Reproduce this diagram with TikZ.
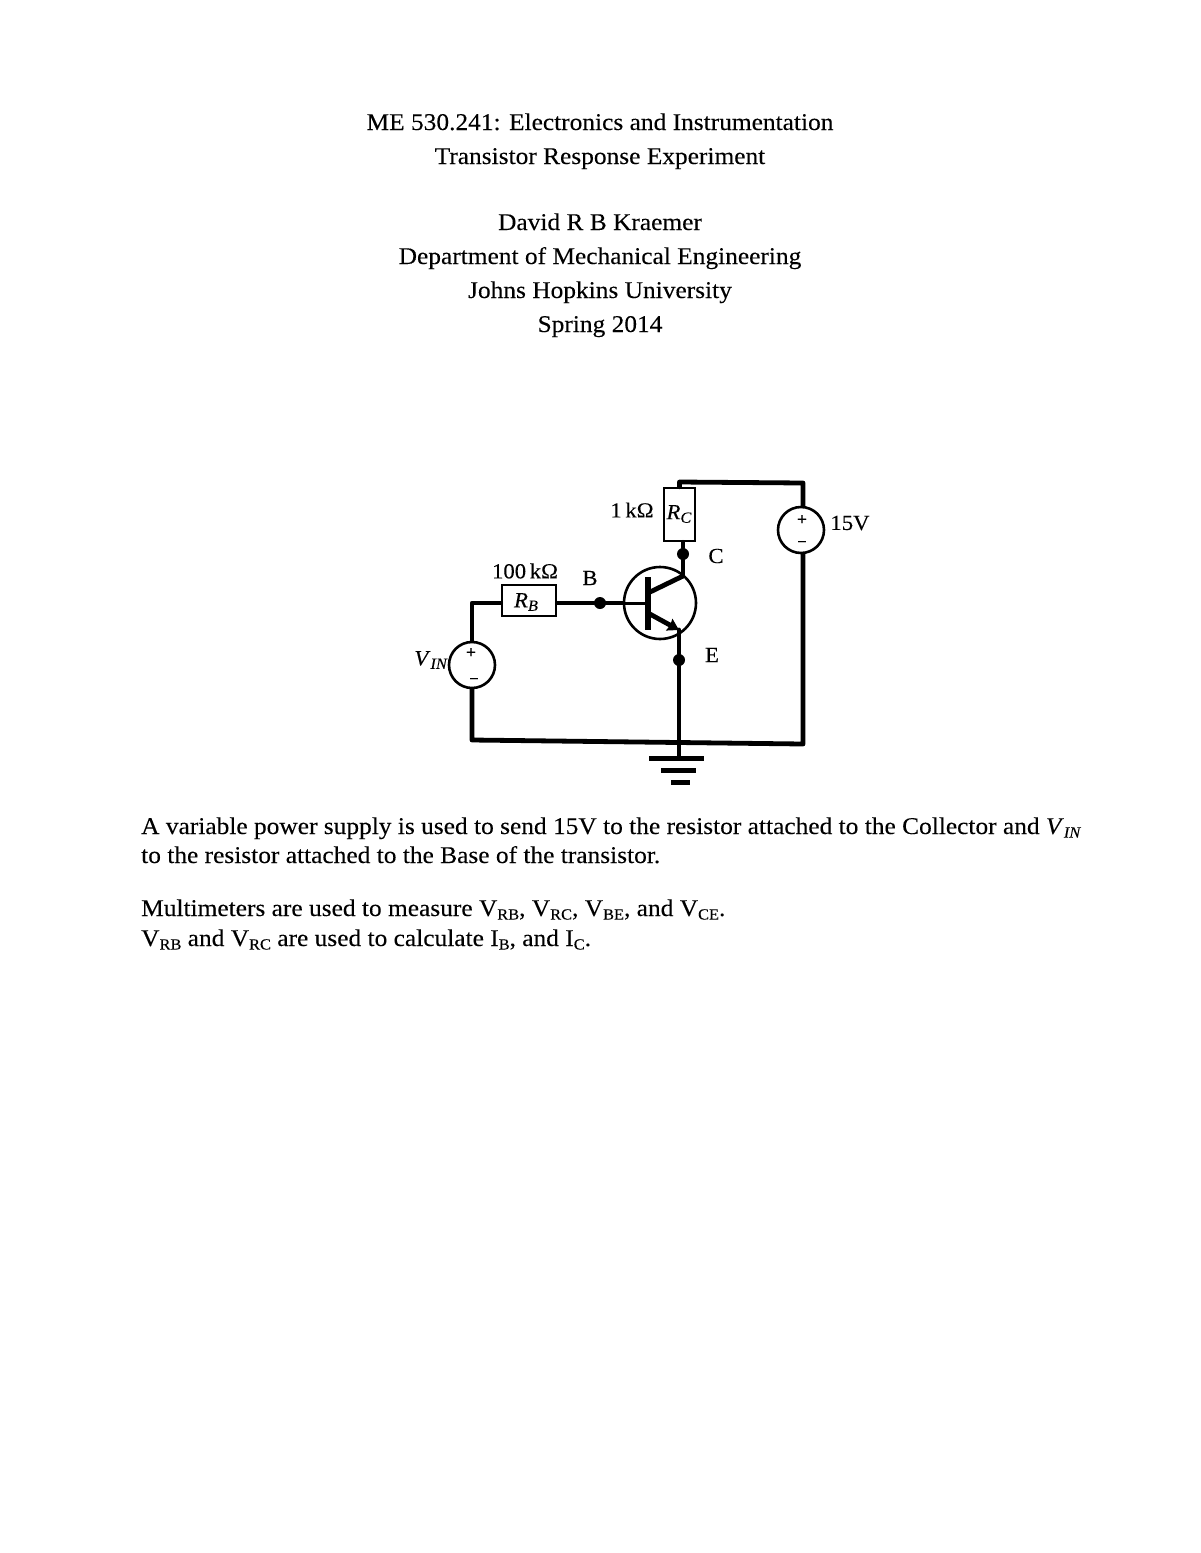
\documentclass[tikz,border=0pt]{standalone}
\usepackage{fontspec}
\setmainfont[FakeStretch=1.058,FakeBold=0.12]{Liberation Serif}
\usetikzlibrary{arrows.meta}
\newcommand{\subs}[1]{{\fontsize{15.5}{15.5}\selectfont\raisebox{-3.5pt}{#1}}}
\tikzset{
  wire/.style={line width=4.8pt,line cap=round,line join=round,black},
  thinwire/.style={line width=3pt,line cap=butt,black},
  comp/.style={draw=black,line width=2.6pt,fill=white,inner sep=0pt,minimum width=#1},
  source/.style={circle,draw=black,line width=2.6pt,fill=white,minimum size=46pt,inner sep=0pt},
  junction/.style={circle,fill=black,minimum size=12pt,inner sep=0pt},
  headline/.style={anchor=base,inner sep=0pt,font=\fontsize{24}{24}\selectfont},
  bodyline/.style={anchor=base west,inner sep=0pt,font=\fontsize{24}{24}\selectfont},
  lab/.style={inner sep=0pt,font=\fontsize{21.5}{21.5}\selectfont},
  sign/.style={inner sep=0pt,font=\fontsize{17}{17}\selectfont\bfseries},
}
\begin{document}
\begin{tikzpicture}[x=1pt,y=-1pt]
\useasboundingbox[fill=white] (0,0) rectangle (1200,1553);
% heading
\node[headline] (t1) at (600,130) {ME 530.241: Electronics and Instrumentation};
\node[headline] (t2) at (600,164) {Transistor Response Experiment};
\node[headline] (t3) at (600,230) {David R B Kraemer};
\node[headline] (t4) at (600,264) {Department of Mechanical Engineering};
\node[headline] (t5) at (600,298) {Johns Hopkins University};
\node[headline] (t6) at (600,332) {Spring 2014};
% body
\node[bodyline] (b1) at (141,834) {A variable power supply is used to send 15V to the resistor attached to the Collector and \textit{V}\subs{\textit{IN}}};
\node[bodyline] (b2) at (141,863) {to the resistor attached to the Base of the transistor.};
\node[bodyline] (b3) at (141,916) {Multimeters are used to measure V\subs{RB}, V\subs{RC}, V\subs{BE}, and V\subs{CE}.};
\node[bodyline] (b4) at (141,946) {V\subs{RB} and V\subs{RC} are used to calculate I\subs{B}, and I\subs{C}.};
% anchors of the circuit
\coordinate (topL) at (679.5,482);
\coordinate (topR) at (803,483);
\coordinate (botL) at (472,740);
\coordinate (botR) at (803,744);
\coordinate (gndj) at (679,742);
\coordinate (gndt) at (679,758);
\coordinate (bend) at (472,603);
\coordinate (collector) at (683,576);
\coordinate (emitter) at (679,630);
\coordinate (bartop) at (648,577);
\coordinate (barbot) at (648,630);
\coordinate (barmid) at (648,603);
\coordinate (barc) at (648,593);
\coordinate (bare) at (648,613);
\coordinate (g1a) at (649,758); \coordinate (g1b) at (704,758);
\coordinate (g2a) at (661,770); \coordinate (g2b) at (696,770);
\coordinate (g3a) at (671,782); \coordinate (g3b) at (690,782);
% components
\node[source] (vin) at (472,665) {};
\node[source] (vcc) at (801,530) {};
\node[circle,draw=black,line width=2.6pt,minimum size=72pt,inner sep=0pt] (q) at (660,603) {};
\node[comp=54pt,minimum height=31pt] (rb) at (529,600.5) {};
\node[comp=31pt,minimum height=53pt] (rc) at (679.5,514.5) {};
\node[junction] (nb) at (600,603) {};
\node[junction] (nc) at (683,554) {};
\node[junction] (ne) at (679,660) {};
% wires
\draw[wire] (vin.north) -- (bend) -- (rb.west |- bend);
\draw[wire] (rb.east |- barmid) -- (nb) -- (q.west);
\draw[thinwire] (q.west) -- (barmid);
\draw[wire] (rc.north) -- (topL) -- (topR) -- (topR |- vcc.north);
\draw[wire] (botR |- vcc.south) -- (botR) -- (botL) -- (vin.south);
\draw[wire] (nc |- rc.south) -- (nc) -- (collector);
\draw[wire] (emitter) -- (ne) -- (gndj) -- (gndt);
\draw[line width=5.5pt] (bartop) -- (barbot);
\draw[wire,line cap=butt] (barc) -- (collector);
\draw[wire,line cap=butt,-{Stealth[length=11pt,width=13pt,inset=1pt]}] (bare) -- (emitter);
\draw[line width=5pt] (g1a) -- (g1b);
\draw[line width=5pt] (g2a) -- (g2b);
\draw[line width=5pt] (g3a) -- (g3b);
% labels
\node[sign] (vinp) at (471,653) {+};
\node[sign] (vinm) at (474,680) {\fontsize{14}{14}\selectfont –};
\node[sign] (vccp) at (802,520) {+};
\node[sign] (vccm) at (802,543) {\fontsize{14}{14}\selectfont –};
\node[lab] (rbt) at (526,602) {\textit{R}\subs{\textit{B}}};
\node[lab] (rct) at (679,514) {\textit{R}\subs{\textit{C}}};
\node[lab] (vint) at (431,660) {\textit{V}\subs{\textit{IN}}};
\node[lab] (l100k) at (525,571) {100\,kΩ};
\node[lab] (l1k) at (632,510) {1\,kΩ};
\node[lab] (l15) at (850,523) {15V};
\node[lab] (lb) at (590,578) {B};
\node[lab] (lc) at (716,556) {C};
\node[lab] (le) at (712,655) {E};
\end{tikzpicture}
\end{document}
